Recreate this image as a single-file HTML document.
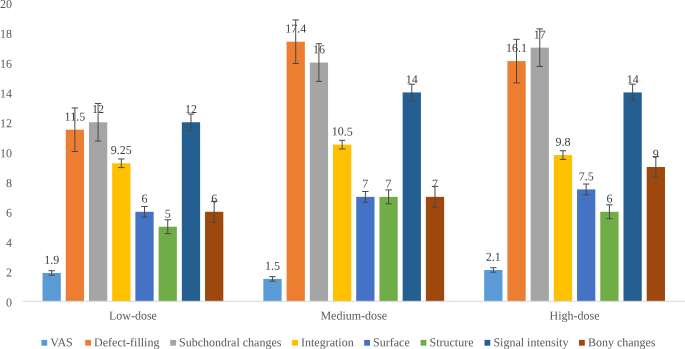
<!DOCTYPE html><html><head><meta charset="utf-8"><title>Chart</title>
<style>html,body{margin:0;padding:0;background:#fff}svg{display:block}text{font-family:"Liberation Serif","Times New Roman",serif;font-size:12px;fill:#595959}text.d{fill:#404040}</style></head><body>
<svg width="685" height="349" viewBox="0 0 685 349">
<rect width="685" height="349" fill="#fff"/>
<text x="12.10" y="306.40" text-anchor="end" transform="rotate(0.05 12.10 306.40)">0</text>
<text x="12.10" y="276.56" text-anchor="end" transform="rotate(0.05 12.10 276.56)">2</text>
<text x="12.10" y="246.72" text-anchor="end" transform="rotate(0.05 12.10 246.72)">4</text>
<text x="12.10" y="216.88" text-anchor="end" transform="rotate(0.05 12.10 216.88)">6</text>
<text x="12.10" y="187.04" text-anchor="end" transform="rotate(0.05 12.10 187.04)">8</text>
<text x="12.10" y="157.20" text-anchor="end" transform="rotate(0.05 12.10 157.20)">10</text>
<text x="12.10" y="127.36" text-anchor="end" transform="rotate(0.05 12.10 127.36)">12</text>
<text x="12.10" y="97.52" text-anchor="end" transform="rotate(0.05 12.10 97.52)">14</text>
<text x="12.10" y="67.68" text-anchor="end" transform="rotate(0.05 12.10 67.68)">16</text>
<text x="12.10" y="37.84" text-anchor="end" transform="rotate(0.05 12.10 37.84)">18</text>
<text x="12.10" y="8.00" text-anchor="end" transform="rotate(0.05 12.10 8.00)">20</text>
<rect x="42.52" y="272.95" width="18.28" height="28.35" fill="#5B9BD5"/>
<rect x="65.73" y="129.72" width="18.28" height="171.58" fill="#ED7D31"/>
<rect x="88.95" y="122.26" width="18.28" height="179.04" fill="#A5A5A5"/>
<rect x="112.17" y="163.29" width="18.28" height="138.01" fill="#FFC000"/>
<rect x="135.38" y="211.78" width="18.28" height="89.52" fill="#4472C4"/>
<rect x="158.60" y="226.70" width="18.28" height="74.60" fill="#70AD47"/>
<rect x="181.82" y="122.26" width="18.28" height="179.04" fill="#255E91"/>
<rect x="205.03" y="211.78" width="18.28" height="89.52" fill="#9E480E"/>
<rect x="263.35" y="278.92" width="18.28" height="22.38" fill="#5B9BD5"/>
<rect x="286.57" y="41.69" width="18.28" height="259.61" fill="#ED7D31"/>
<rect x="309.78" y="62.58" width="18.28" height="238.72" fill="#A5A5A5"/>
<rect x="333.00" y="144.64" width="18.28" height="156.66" fill="#FFC000"/>
<rect x="356.22" y="196.86" width="18.28" height="104.44" fill="#4472C4"/>
<rect x="379.43" y="196.86" width="18.28" height="104.44" fill="#70AD47"/>
<rect x="402.65" y="92.42" width="18.28" height="208.88" fill="#255E91"/>
<rect x="425.87" y="196.86" width="18.28" height="104.44" fill="#9E480E"/>
<rect x="484.18" y="269.97" width="18.28" height="31.33" fill="#5B9BD5"/>
<rect x="507.40" y="61.09" width="18.28" height="240.21" fill="#ED7D31"/>
<rect x="530.62" y="47.66" width="18.28" height="253.64" fill="#A5A5A5"/>
<rect x="553.83" y="155.08" width="18.28" height="146.22" fill="#FFC000"/>
<rect x="577.05" y="189.40" width="18.28" height="111.90" fill="#4472C4"/>
<rect x="600.27" y="211.78" width="18.28" height="89.52" fill="#70AD47"/>
<rect x="623.48" y="92.42" width="18.28" height="208.88" fill="#255E91"/>
<rect x="646.70" y="167.02" width="18.28" height="134.28" fill="#9E480E"/>
<line x1="22.50" y1="301.30" x2="685.00" y2="301.30" stroke="#D9D9D9" stroke-width="1"/>
<path d="M51.66 270.71V275.19M48.46 270.71h6.4M48.46 275.19h6.4" stroke="#484848" stroke-width="1" fill="none"/>
<path d="M74.87 107.94V151.50M71.67 107.94h6.4M71.67 151.50h6.4" stroke="#484848" stroke-width="1" fill="none"/>
<path d="M98.09 103.46V141.06M94.89 103.46h6.4M94.89 141.06h6.4" stroke="#484848" stroke-width="1" fill="none"/>
<path d="M121.31 158.96V167.62M118.11 158.96h6.4M118.11 167.62h6.4" stroke="#484848" stroke-width="1" fill="none"/>
<path d="M144.53 206.41V217.15M141.33 206.41h6.4M141.33 217.15h6.4" stroke="#484848" stroke-width="1" fill="none"/>
<path d="M167.74 219.76V233.64M164.54 219.76h6.4M164.54 233.64h6.4" stroke="#484848" stroke-width="1" fill="none"/>
<path d="M190.96 114.05V130.47M187.76 114.05h6.4M187.76 130.47h6.4" stroke="#484848" stroke-width="1" fill="none"/>
<path d="M214.18 201.34V222.22M210.98 201.34h6.4M210.98 222.22h6.4" stroke="#484848" stroke-width="1" fill="none"/>
<path d="M272.49 276.68V281.16M269.29 276.68h6.4M269.29 281.16h6.4" stroke="#484848" stroke-width="1" fill="none"/>
<path d="M295.71 19.91V63.48M292.51 19.91h6.4M292.51 63.48h6.4" stroke="#484848" stroke-width="1" fill="none"/>
<path d="M318.92 43.78V81.38M315.72 43.78h6.4M315.72 81.38h6.4" stroke="#484848" stroke-width="1" fill="none"/>
<path d="M342.14 140.31V148.97M338.94 140.31h6.4M338.94 148.97h6.4" stroke="#484848" stroke-width="1" fill="none"/>
<path d="M365.36 191.49V202.23M362.16 191.49h6.4M362.16 202.23h6.4" stroke="#484848" stroke-width="1" fill="none"/>
<path d="M388.58 189.92V203.80M385.38 189.92h6.4M385.38 203.80h6.4" stroke="#484848" stroke-width="1" fill="none"/>
<path d="M411.79 84.21V100.63M408.59 84.21h6.4M408.59 100.63h6.4" stroke="#484848" stroke-width="1" fill="none"/>
<path d="M435.01 186.42V207.30M431.81 186.42h6.4M431.81 207.30h6.4" stroke="#484848" stroke-width="1" fill="none"/>
<path d="M493.32 267.73V272.21M490.12 267.73h6.4M490.12 272.21h6.4" stroke="#484848" stroke-width="1" fill="none"/>
<path d="M516.54 39.30V82.87M513.34 39.30h6.4M513.34 82.87h6.4" stroke="#484848" stroke-width="1" fill="none"/>
<path d="M539.76 28.86V66.46M536.56 28.86h6.4M536.56 66.46h6.4" stroke="#484848" stroke-width="1" fill="none"/>
<path d="M562.97 150.76V159.41M559.77 150.76h6.4M559.77 159.41h6.4" stroke="#484848" stroke-width="1" fill="none"/>
<path d="M586.19 184.03V194.77M582.99 184.03h6.4M582.99 194.77h6.4" stroke="#484848" stroke-width="1" fill="none"/>
<path d="M609.41 204.84V218.72M606.21 204.84h6.4M606.21 218.72h6.4" stroke="#484848" stroke-width="1" fill="none"/>
<path d="M632.63 84.21V100.63M629.43 84.21h6.4M629.43 100.63h6.4" stroke="#484848" stroke-width="1" fill="none"/>
<path d="M655.84 156.58V177.46M652.64 156.58h6.4M652.64 177.46h6.4" stroke="#484848" stroke-width="1" fill="none"/>
<text x="51.66" y="263.70" text-anchor="middle" class="d" transform="rotate(0.05 51.66 263.70)">1.9</text>
<text x="74.87" y="120.47" text-anchor="middle" class="d" transform="rotate(0.05 74.87 120.47)">11.5</text>
<text x="98.09" y="113.01" text-anchor="middle" class="d" transform="rotate(0.05 98.09 113.01)">12</text>
<text x="121.31" y="154.04" text-anchor="middle" class="d" transform="rotate(0.05 121.31 154.04)">9.25</text>
<text x="144.53" y="202.53" text-anchor="middle" class="d" transform="rotate(0.05 144.53 202.53)">6</text>
<text x="167.74" y="217.45" text-anchor="middle" class="d" transform="rotate(0.05 167.74 217.45)">5</text>
<text x="190.96" y="113.01" text-anchor="middle" class="d" transform="rotate(0.05 190.96 113.01)">12</text>
<text x="214.18" y="202.53" text-anchor="middle" class="d" transform="rotate(0.05 214.18 202.53)">6</text>
<text x="272.49" y="269.67" text-anchor="middle" class="d" transform="rotate(0.05 272.49 269.67)">1.5</text>
<text x="295.71" y="32.44" text-anchor="middle" class="d" transform="rotate(0.05 295.71 32.44)">17.4</text>
<text x="318.92" y="53.33" text-anchor="middle" class="d" transform="rotate(0.05 318.92 53.33)">16</text>
<text x="342.14" y="135.39" text-anchor="middle" class="d" transform="rotate(0.05 342.14 135.39)">10.5</text>
<text x="365.36" y="187.61" text-anchor="middle" class="d" transform="rotate(0.05 365.36 187.61)">7</text>
<text x="388.58" y="187.61" text-anchor="middle" class="d" transform="rotate(0.05 388.58 187.61)">7</text>
<text x="411.79" y="83.17" text-anchor="middle" class="d" transform="rotate(0.05 411.79 83.17)">14</text>
<text x="435.01" y="187.61" text-anchor="middle" class="d" transform="rotate(0.05 435.01 187.61)">7</text>
<text x="493.32" y="260.72" text-anchor="middle" class="d" transform="rotate(0.05 493.32 260.72)">2.1</text>
<text x="516.54" y="51.84" text-anchor="middle" class="d" transform="rotate(0.05 516.54 51.84)">16.1</text>
<text x="539.76" y="38.41" text-anchor="middle" class="d" transform="rotate(0.05 539.76 38.41)">17</text>
<text x="562.97" y="145.83" text-anchor="middle" class="d" transform="rotate(0.05 562.97 145.83)">9.8</text>
<text x="586.19" y="180.15" text-anchor="middle" class="d" transform="rotate(0.05 586.19 180.15)">7.5</text>
<text x="609.41" y="202.53" text-anchor="middle" class="d" transform="rotate(0.05 609.41 202.53)">6</text>
<text x="632.63" y="83.17" text-anchor="middle" class="d" transform="rotate(0.05 632.63 83.17)">14</text>
<text x="655.84" y="157.77" text-anchor="middle" class="d" transform="rotate(0.05 655.84 157.77)">9</text>
<text x="132.92" y="319.45" text-anchor="middle" transform="rotate(0.05 132.92 319.45)">Low-dose</text>
<text x="353.75" y="319.45" text-anchor="middle" transform="rotate(0.05 353.75 319.45)">Medium-dose</text>
<text x="574.58" y="319.45" text-anchor="middle" transform="rotate(0.05 574.58 319.45)">High-dose</text>
<rect x="41.40" y="339.9" width="5.8" height="5.8" fill="#5B9BD5"/>
<text x="50.30" y="346.20" transform="rotate(0.05 50.30 346.20)">VAS</text>
<rect x="85.20" y="339.9" width="5.8" height="5.8" fill="#ED7D31"/>
<text x="94.10" y="346.20" transform="rotate(0.05 94.10 346.20)">Defect-filling</text>
<rect x="170.20" y="339.9" width="5.8" height="5.8" fill="#A5A5A5"/>
<text x="179.10" y="346.20" transform="rotate(0.05 179.10 346.20)">Subchondral changes</text>
<rect x="292.10" y="339.9" width="5.8" height="5.8" fill="#FFC000"/>
<text x="301.00" y="346.20" transform="rotate(0.05 301.00 346.20)">Integration</text>
<rect x="364.20" y="339.9" width="5.8" height="5.8" fill="#4472C4"/>
<text x="373.10" y="346.20" transform="rotate(0.05 373.10 346.20)">Surface</text>
<rect x="420.60" y="339.9" width="5.8" height="5.8" fill="#70AD47"/>
<text x="429.50" y="346.20" transform="rotate(0.05 429.50 346.20)">Structure</text>
<rect x="484.50" y="339.9" width="5.8" height="5.8" fill="#255E91"/>
<text x="493.40" y="346.20" transform="rotate(0.05 493.40 346.20)">Signal intensity</text>
<rect x="579.00" y="339.9" width="5.8" height="5.8" fill="#9E480E"/>
<text x="587.90" y="346.20" transform="rotate(0.05 587.90 346.20)">Bony changes</text>
</svg></body></html>
